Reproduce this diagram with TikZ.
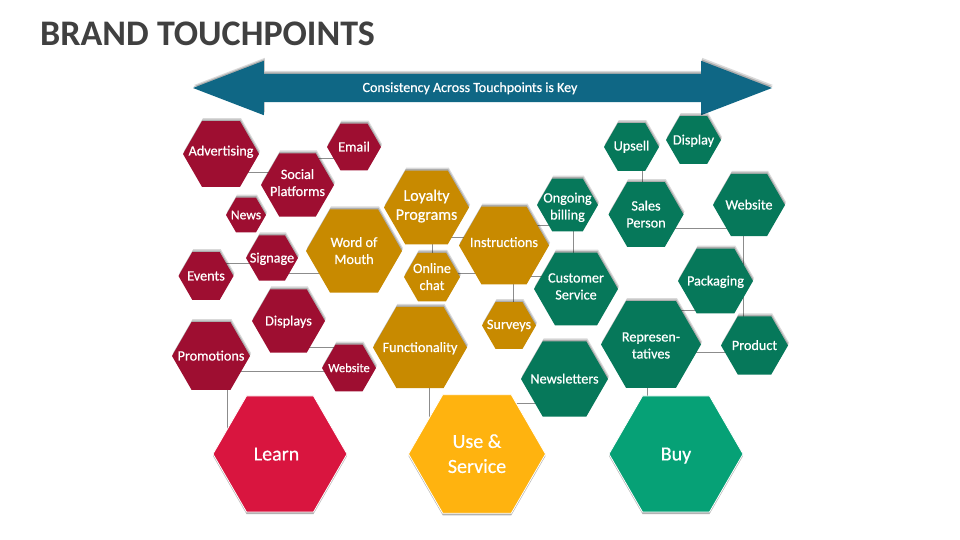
\documentclass[tikz,border=0pt]{standalone}
\usepackage{fontspec}
\setmainfont{Carlito}
\newfontfamily\hexfont[FakeBold=0.6]{Carlito}
\usepackage{xcolor}
\usetikzlibrary{shapes.geometric,shapes.arrows,shadows,backgrounds}

\definecolor{learnred}{HTML}{D9153F}
\definecolor{darkred}{HTML}{9E0E31}
\definecolor{useyellow}{HTML}{FFB30F}
\definecolor{darkgold}{HTML}{C88A00}
\definecolor{buygreen}{HTML}{06A176}
\definecolor{darkgreen}{HTML}{06785A}
\definecolor{arrowblue}{HTML}{0F6785}

% zero sized label, so that the text never widens a hexagon
\newcommand{\hexname}[2][0pt]{\raisebox{\dimexpr #1-.33em\relax}[0pt][0pt]{\makebox[0pt]{\begin{tabular}{@{}c@{}}#2\end{tabular}}}}

\tikzset{
	softshadow/.style={drop shadow={shadow xshift=.5pt,shadow yshift=1.5pt,fill=black,opacity=.2},drop shadow={shadow xshift=1pt,shadow yshift=3pt,fill=black,opacity=.15}},
	hexa/.style={regular polygon,regular polygon sides=6,minimum size=#1,inner sep=0pt,text=white,font=\hexfont\fontsize{14.2}{17}\selectfont},
	smallhex/.style={hexa=#1,softshadow},
	redhex/.style={smallhex=#1,fill=darkred},
	goldhex/.style={smallhex=#1,fill=darkgold},
	greenhex/.style={smallhex=#1,fill=darkgreen},
	bighex/.style={hexa=#1,draw=white,line width=.8pt,drop shadow={shadow xshift=0pt,shadow yshift=-2pt,fill=black,opacity=.3},font=\hexfont\fontsize{20}{25}\selectfont},
	link/.style={draw=gray!90,line width=.8pt}
}

\begin{document}
\begin{tikzpicture}[x=1pt,y=-1pt]
	\useasboundingbox (0,0) rectangle (960,540);

	\node[anchor=west,inner sep=0pt,text=black!75,font=\fontsize{36}{40}\selectfont\bfseries] (title) at (40,34) {BRAND TOUCHPOINTS};

	\node[double arrow,double arrow head extend=13pt,double arrow tip angle=42,minimum height=579pt,minimum width=54pt,inner xsep=0pt,inner ysep=4pt,text height=14pt,text depth=6pt,fill=arrowblue,text=white,font=\hexfont\fontsize{14}{16}\selectfont,softshadow] (key) at (482.5,88) {Consistency Across Touchpoints is Key\hspace*{25pt}};

	% learn
	\node[bighex=134,fill=learnred] (learn) at (280,454) {\hexname{Learn\hspace*{7pt}}};
	\node[redhex=76] (advertising) at (221,154) {\hexname[3pt]{Advertising}};
	\node[redhex=54] (email) at (354,147) {\hexname{Email}};
	\node[redhex=73] (social) at (297.5,185) {\hexname[2pt]{Social\\Platforms}};
	\node[redhex=40,font=\hexfont\fontsize{13.5}{17}\selectfont] (news) at (246,215) {\hexname{News}};
	\node[redhex=52] (signage) at (272,258) {\hexname{Signage}};
	\node[redhex=55] (events) at (206,276) {\hexname{Events}};
	\node[redhex=73] (displays) at (288.5,321) {\hexname{Displays}};
	\node[redhex=78] (promotions) at (211,356) {\hexname{Promotions}};
	\node[redhex=54,font=\hexfont\fontsize{12.5}{15}\selectfont] (websitered) at (349,368) {\hexname{Website}};

	% use and service
	\node[bighex=137,fill=useyellow] (use) at (477,454) {\hexname{Use \&\\Service}};
	\node[goldhex=96] (word) at (354,251) {\hexname{Word of\\Mouth}};
	\node[goldhex=85,font=\hexfont\fontsize{16}{19}\selectfont] (loyalty) at (426.5,207.5) {\hexname[2pt]{Loyalty\\Programs}};
	\node[goldhex=56] (online) at (432,277) {\hexname{Online\\chat}};
	\node[goldhex=90] (instructions) at (504,245.5) {\hexname[3pt]{Instructions}};
	\node[goldhex=54] (surveys) at (509,325.5) {\hexname[1pt]{Surveys}};
	\node[goldhex=94] (functionality) at (420,347.5) {\hexname{Functionality}};

	% buy
	\node[bighex=134,fill=buygreen] (buy) at (676,454) {\hexname{Buy}};
	\node[greenhex=61] (ongoing) at (567.5,205) {\hexname[-1.5pt]{Ongoing\\billing}};
	\node[greenhex=84] (customer) at (576,289) {\hexname[2.5pt]{Customer\\Service}};
	\node[greenhex=87] (newsletters) at (564.5,379) {\hexname{Newsletters}};
	\node[greenhex=100] (reps) at (651,344.5) {\hexname[-1pt]{Represen-\\tatives}};
	\node[greenhex=67] (product) at (754.5,345.5) {\hexname{Product}};
	\node[greenhex=75] (packaging) at (715.5,281) {\hexname{Packaging}};
	\node[greenhex=72] (websitegreen) at (749,205) {\hexname{Website}};
	\node[greenhex=75] (sales) at (646,214.5) {\hexname{Sales\\Person}};
	\node[greenhex=55] (upsell) at (631.5,147) {\hexname[1pt]{Upsell}};
	\node[greenhex=55] (display) at (693.5,140) {\hexname{Display}};

	\begin{scope}[on background layer]
		\fill[white] (0,0) rectangle (960,540);
		\path[link]
		(advertising |- 0,172) edge (social |- 0,172)
		(social |- 0,158) edge (email |- 0,158)
		(events |- 0,263) edge (signage |- 0,263)
		(signage |- 0,273) edge (word |- 0,273)
		(loyalty -| 432,0) edge (online -| 432,0)
		(loyalty |- 0,237) edge (instructions |- 0,237)
		(online |- 0,273) edge (instructions |- 0,273)
		(instructions |- 0,225) edge (ongoing |- 0,225)
		(ongoing -| 573,0) edge (customer -| 573,0)
		(instructions |- 0,276) edge (customer |- 0,276)
		(instructions -| 513,0) edge (surveys -| 513,0)
		(upsell -| 642,0) edge (sales -| 642,0)
		(sales |- 0,228) edge (websitegreen |- 0,228)
		(websitegreen -| 743,0) edge (product -| 743,0)
		(reps |- 0,310) edge (packaging |- 0,310)
		(reps |- 0,352) edge (product |- 0,352)
		(reps -| 647,0) edge (buy -| 647,0)
		(newsletters |- 0,403) edge (use |- 0,403)
		(functionality -| 429,0) edge (use -| 429,0)
		(promotions -| 227,0) edge (learn -| 227,0)
		(promotions |- 0,371) edge (websitered |- 0,371)
		(displays |- 0,347) edge (websitered |- 0,347);
	\end{scope}
\end{tikzpicture}
\end{document}
